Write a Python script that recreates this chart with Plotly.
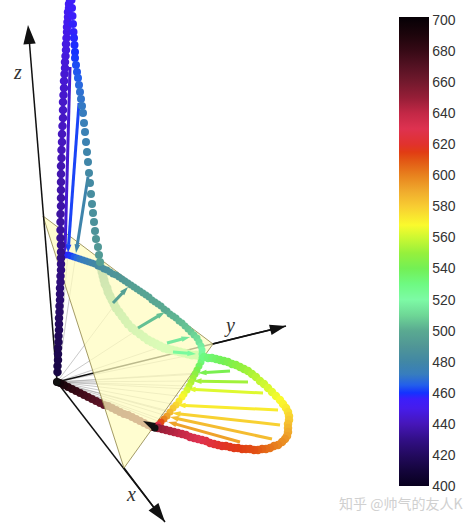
import plotly.graph_objects as go

# --- Colour scale (wavelength nm, colour)
scale_nm = [400, 410, 420, 430, 440, 450, 456, 460, 465, 472, 480, 490, 500, 510, 520, 530, 540, 550, 560, 568, 580, 590, 600, 610, 615, 620, 630, 640, 650, 660, 670, 680, 690, 702]
scale_rgb = [(8, 0, 30), (20, 5, 60), (35, 10, 95), (50, 15, 135), (70, 22, 185), (70, 28, 235), (60, 30, 250), (20, 50, 255), (35, 95, 235), (55, 125, 190), (65, 135, 165), (80, 150, 150), (90, 170, 145), (110, 215, 150), (125, 250, 165), (110, 250, 130), (115, 240, 85), (150, 240, 60), (205, 248, 50), (250, 250, 45), (248, 205, 50), (240, 170, 45), (232, 130, 30), (226, 85, 20), (225, 60, 20), (225, 50, 45), (222, 50, 80), (195, 40, 70), (150, 30, 55), (115, 25, 45), (85, 18, 35), (55, 10, 22), (30, 5, 12), (5, 0, 5)]

tick_nm = [700, 680, 660, 640, 620, 600, 580, 560, 540, 520, 500, 480, 460, 440, 420, 400]

# --- Triangle plane, axes (picture coordinates)
plane_x = [43, 213, 124, 43]
plane_y = [216, 344, 468, 216]
origin_x, origin_y = 57, 382
z_axis_tip = (28, 25)
y_axis_tip = (286, 326)
x_axis_tip = (165, 522)

# --- Violet branch of the spectral curve, rising
violet_x = [57.5, 57.5, 58, 58, 58, 58.5, 58.5, 59, 59, 59, 59.5, 59.5, 60, 60, 60, 60.5, 60.5, 61, 61, 61, 61, 61, 60.5, 60.5, 60.5, 60.5, 61, 61, 61, 61, 61, 61, 61.5, 61.5, 62, 62, 62.5, 63, 63, 63, 63.5, 64, 64, 64.5, 65, 65, 65.5, 66, 66, 66.5, 67, 67, 67.5, 68, 68, 69, 69, 70]
violet_y = [372, 366, 360, 354, 348, 342, 336, 330, 324, 318, 312, 306, 300, 294, 288, 282, 276, 270, 264, 258, 252, 245, 238, 230, 222, 214, 206, 198, 190, 182, 174, 166, 158, 150, 142, 134, 126, 118, 110, 102, 95, 88, 81, 74, 68, 62, 56, 50, 44, 38, 32, 27, 22, 17, 12, 8, 4, 0]
violet_nm = [412, 413, 414, 415, 416, 417, 418, 419, 420, 421, 422, 423, 424, 425, 426, 427, 428, 428, 429, 430, 431, 432, 433, 434, 435, 435, 436, 436, 437, 437, 438, 438, 439, 440, 441, 441, 442, 442, 443, 443, 444, 444, 445, 445, 446, 446, 447, 448, 448, 449, 449, 450, 451, 451, 452, 453, 453, 454]

# --- Blue branch, falling
blue_x = [71.5, 72, 72.5, 73, 73.5, 74, 74.5, 75, 75, 76, 77, 78, 79, 80, 81, 82, 83, 84, 85, 86, 87, 88, 89, 90, 91, 92, 93, 94, 95, 96, 98, 99, 100]
blue_y = [0, 8, 16, 24, 32, 38, 45, 52, 58, 65, 72, 78, 85, 92, 99, 106, 113, 123, 132, 142, 152, 162, 173, 183, 194, 204, 213, 222, 231, 239, 247, 255, 262]
blue_nm = [455, 456, 456, 457, 457, 458, 459, 460, 461, 463, 464, 465, 467, 469, 470, 471, 472, 474, 475, 476, 478, 479, 481, 482, 484, 485, 486, 487, 488, 490, 491, 492, 495]

# --- Curve segment behind the plane
hidden_x = [100, 101, 102, 103, 104, 105, 107, 108, 110, 112, 114, 116, 119, 122, 125, 128, 132, 136, 140, 144, 148, 152, 156, 160, 164, 168, 172, 176, 180, 184, 188, 192, 196, 200]
hidden_y = [264, 268, 272, 276, 280, 284, 288, 292, 296, 300, 304, 308, 312, 316, 320, 324, 328, 331, 334, 337, 340, 342, 344, 346, 348, 349, 350, 351, 352, 353, 354, 355, 355, 356]
hidden_nm = [496, 497, 498, 499, 500, 501, 502, 503, 504, 505, 506, 507, 508, 509, 510, 511, 512, 513, 514, 515, 516, 517, 518, 519, 520, 521, 522, 523, 524, 525, 526, 527, 528, 529]

# --- Red tail running back to the origin, behind the plane
tail_x = [152, 148, 144, 140, 136, 132, 128, 124, 120, 116, 112, 108, 104, 100, 96, 92, 88, 84, 80, 76, 72, 68, 64, 60, 57]
tail_y = [427, 425, 423, 421, 419, 417, 415, 414, 412, 410, 408, 406, 405, 403, 401, 399, 397, 395, 393, 391, 389, 387, 385, 383, 382]
tail_nm = [653, 655, 656, 657, 658, 659, 660, 661, 662, 663, 664, 665, 666, 667, 669, 671, 673, 675, 677, 680, 683, 686, 690, 695, 700]

# --- Curve segment in front of the plane
front_x = [204, 208, 212, 216, 220, 224, 228, 232, 236, 240, 244, 248, 252, 256, 260, 264, 268, 272, 276, 280, 283, 286, 288, 289, 289, 288, 288, 288, 287, 285, 282, 278, 274, 270, 266, 262, 258, 254, 250, 246, 242, 238, 234, 230, 226, 222, 218, 214, 210, 206, 202, 198, 194, 190, 186, 182, 178, 174, 170, 166, 162, 158]
front_y = [357, 358, 358, 359, 360, 361, 362, 364, 365, 367, 369, 371, 374, 377, 381, 384, 388, 392, 396, 400, 404, 408, 412, 416, 420, 424, 428, 432, 436, 439, 442, 445, 446, 448, 449, 449, 450, 450, 449, 449, 449, 448, 448, 447, 446, 446, 445, 444, 443, 441, 440, 439, 438, 437, 435, 434, 433, 432, 431, 430, 429, 428]
front_nm = [530, 532, 534, 536, 538, 540, 542, 544, 546, 548, 550, 552, 554, 556, 558, 560, 562, 564, 566, 568, 570, 572, 575, 578, 581, 584, 587, 590, 592, 595, 597, 599, 601, 603, 605, 607, 609, 611, 612, 613, 614, 615, 616, 617, 618, 619, 620, 622, 624, 626, 628, 630, 632, 634, 636, 638, 640, 642, 644, 646, 648, 650]

# --- Projected locus on the plane
locus_x = [62, 65, 68, 71, 74, 77, 80, 83, 86, 89, 92, 95, 98, 101, 104, 107, 110, 113, 116, 119, 122, 125, 128, 131, 134, 137, 140, 143, 146, 149, 152, 155, 158, 161, 164, 167, 170, 173, 176, 179, 182, 185, 188, 191, 194, 197, 199, 201, 202, 202, 202, 201, 199, 197, 195, 193, 191, 189, 187, 184, 182, 179, 176, 173, 170, 167, 164, 161, 158, 155]
locus_y = [254, 255, 255, 256, 257, 258, 259, 260, 261, 262, 263, 264, 266, 267, 269, 270, 272, 274, 275, 277, 279, 281, 283, 285, 287, 289, 291, 293, 295, 297, 300, 302, 304, 306, 309, 311, 314, 316, 318, 321, 323, 326, 329, 332, 335, 338, 342, 346, 350, 354, 358, 362, 366, 370, 374, 378, 382, 386, 390, 394, 397, 401, 405, 408, 412, 416, 419, 422, 425, 428]
locus_nm = [450, 455, 458, 461, 464, 467, 470, 472, 474, 476, 478, 480, 482, 484, 485, 486, 487, 488, 489, 490, 491, 492, 493, 494, 495, 495, 496, 496, 497, 497, 498, 498, 499, 499, 500, 500, 501, 502, 502, 503, 504, 505, 506, 507, 509, 511, 513, 516, 519, 523, 527, 532, 537, 542, 547, 551, 554, 557, 561, 565, 569, 573, 577, 581, 586, 592, 600, 612, 628, 690]

# --- Arrows: from the curve down to the plane
arrow_from_x = [70, 79, 88, 113, 138, 167, 173, 230, 248, 263, 278, 280, 272, 240]
arrow_from_y = [67, 103, 177, 303, 328, 343, 352, 371, 382, 393, 410, 425, 439, 442]
arrow_to_x = [65, 68, 76, 128, 165, 190, 196, 198, 193, 187, 177, 172, 170, 168]
arrow_to_y = [253, 253, 253, 287, 312, 337, 354, 373, 381, 389, 405, 413, 417, 422]
arrow_nm = [445, 462, 478, 495, 505, 515, 522, 542, 552, 563, 572, 579, 585, 592]

# --- Extra thin rays from the origin to the plane
fan_x = [160, 157, 165, 178, 188, 200]
fan_y = [422, 425, 410, 396, 386, 374]

watermark = "知乎 @帅气的友人K"
tick_text = [str(t) for t in tick_nm]
NM_MIN, NM_MAX = 400, 702


def colour(nm):
    for i in range(len(scale_nm) - 1):
        if scale_nm[i] <= nm <= scale_nm[i + 1]:
            t = (nm - scale_nm[i]) / (scale_nm[i + 1] - scale_nm[i])
            a, b = scale_rgb[i], scale_rgb[i + 1]
            return "rgb(%d,%d,%d)" % tuple(round(a[k] + t * (b[k] - a[k])) for k in range(3))
    return "rgb(0,0,0)"


colorscale = [[(n - NM_MIN) / (NM_MAX - NM_MIN), "rgb(%d,%d,%d)" % c] for n, c in zip(scale_nm, scale_rgb)]
fig = go.Figure()


def line(xs, ys, color, width):
    fig.add_trace(go.Scatter(x=xs, y=ys, mode="lines", line=dict(color=color, width=width), hoverinfo="skip"))


def arrow(xs, ys, color, width, size):
    fig.add_trace(go.Scatter(x=xs, y=ys, mode="lines+markers", line=dict(color=color, width=width),
                             marker=dict(symbol="arrow", size=[0, size], color=color, angleref="previous",
                                         opacity=1, line=dict(width=0)),
                             hoverinfo="skip"))


def dots(xs, ys, nm, size):
    fig.add_trace(go.Scatter(x=xs, y=ys, mode="markers",
                             marker=dict(size=size, color=nm, coloraxis="coloraxis", opacity=1, line=dict(width=0)),
                             hoverinfo="skip"))


# Behind the plane
for fx, fy in zip(arrow_to_x + fan_x, arrow_to_y + fan_y):
    line([origin_x, fx], [origin_y, fy], "rgb(165,165,165)", 0.6)
line([origin_x, y_axis_tip[0]], [origin_y, y_axis_tip[1]], "#111111", 1.5)
line([origin_x, x_axis_tip[0]], [origin_y, x_axis_tip[1]], "#111111", 1.5)
dots(hidden_x, hidden_y, hidden_nm, 9)
dots(tail_x, tail_y, tail_nm, 8)

# Plane
fig.add_trace(go.Scatter(x=plane_x, y=plane_y, mode="lines", fill="toself",
                         fillcolor="rgba(255,252,190,0.72)",
                         line=dict(color="rgba(140,130,70,0.8)", width=1), hoverinfo="skip"))

# Axes' arrow heads and z axis
arrow([origin_x, z_axis_tip[0]], [origin_y, z_axis_tip[1]], "#111111", 1.5, 20)
arrow([plane_x[1], y_axis_tip[0]], [plane_y[1], y_axis_tip[1]], "#111111", 1.5, 17)
arrow([plane_x[2], x_axis_tip[0]], [plane_y[2], x_axis_tip[1]], "#111111", 1.5, 20)

# In front of the plane
for a, b, c, d, n in zip(arrow_from_x, arrow_from_y, arrow_to_x, arrow_to_y, arrow_nm):
    arrow([a, c], [b, d], colour(n), 3, 9)
dots(locus_x, locus_y, locus_nm, 7)
dots(violet_x, violet_y, violet_nm, 8.5)
dots(blue_x, blue_y, blue_nm, 8)
dots(front_x, front_y, front_nm, 8.5)
arrow([157, 143], [428, 421], "#111111", 3, 13)
fig.add_trace(go.Scatter(x=[155, origin_x], y=[428, origin_y], mode="markers",
                         marker=dict(size=7, color="#111111", opacity=1), hoverinfo="skip"))

for txt, px, py, fs in [("z", 17, 72, 20), ("y", 229, 325, 20), ("x", 131, 494, 20)]:
    fig.add_annotation(x=px, y=py, text=txt, showarrow=False,
                       font=dict(family="Liberation Serif", size=fs, color="#333333", style="italic"))
fig.add_annotation(x=400, y=503, text=watermark, showarrow=False,
                   font=dict(family="Noto Sans CJK SC", size=14, color="#d0d0d0"))

fig.update_layout(
    width=474, height=523, margin=dict(l=0, r=0, t=0, b=0), showlegend=False,
    paper_bgcolor="white", plot_bgcolor="white",
    xaxis=dict(range=[0, 474], visible=False, fixedrange=True),
    yaxis=dict(range=[523, 0], visible=False, fixedrange=True),
    coloraxis=dict(colorscale=colorscale, cmin=NM_MIN, cmax=NM_MAX,
                   colorbar=dict(x=399 / 474, xanchor="left", xpad=0, thickness=30, thicknessmode="pixels",
                                 y=1 - 17 / 523, yanchor="top", ypad=0, len=469, lenmode="pixels",
                                 tickvals=tick_nm, ticktext=tick_text, ticks="", outlinewidth=0,
                                 tickfont=dict(family="Liberation Sans", size=14, color="#333333"))),
)
fig.write_html("out.html", config=dict(displayModeBar=False),
               post_script="document.body.style.margin='0';document.documentElement.style.overflow='hidden';")
